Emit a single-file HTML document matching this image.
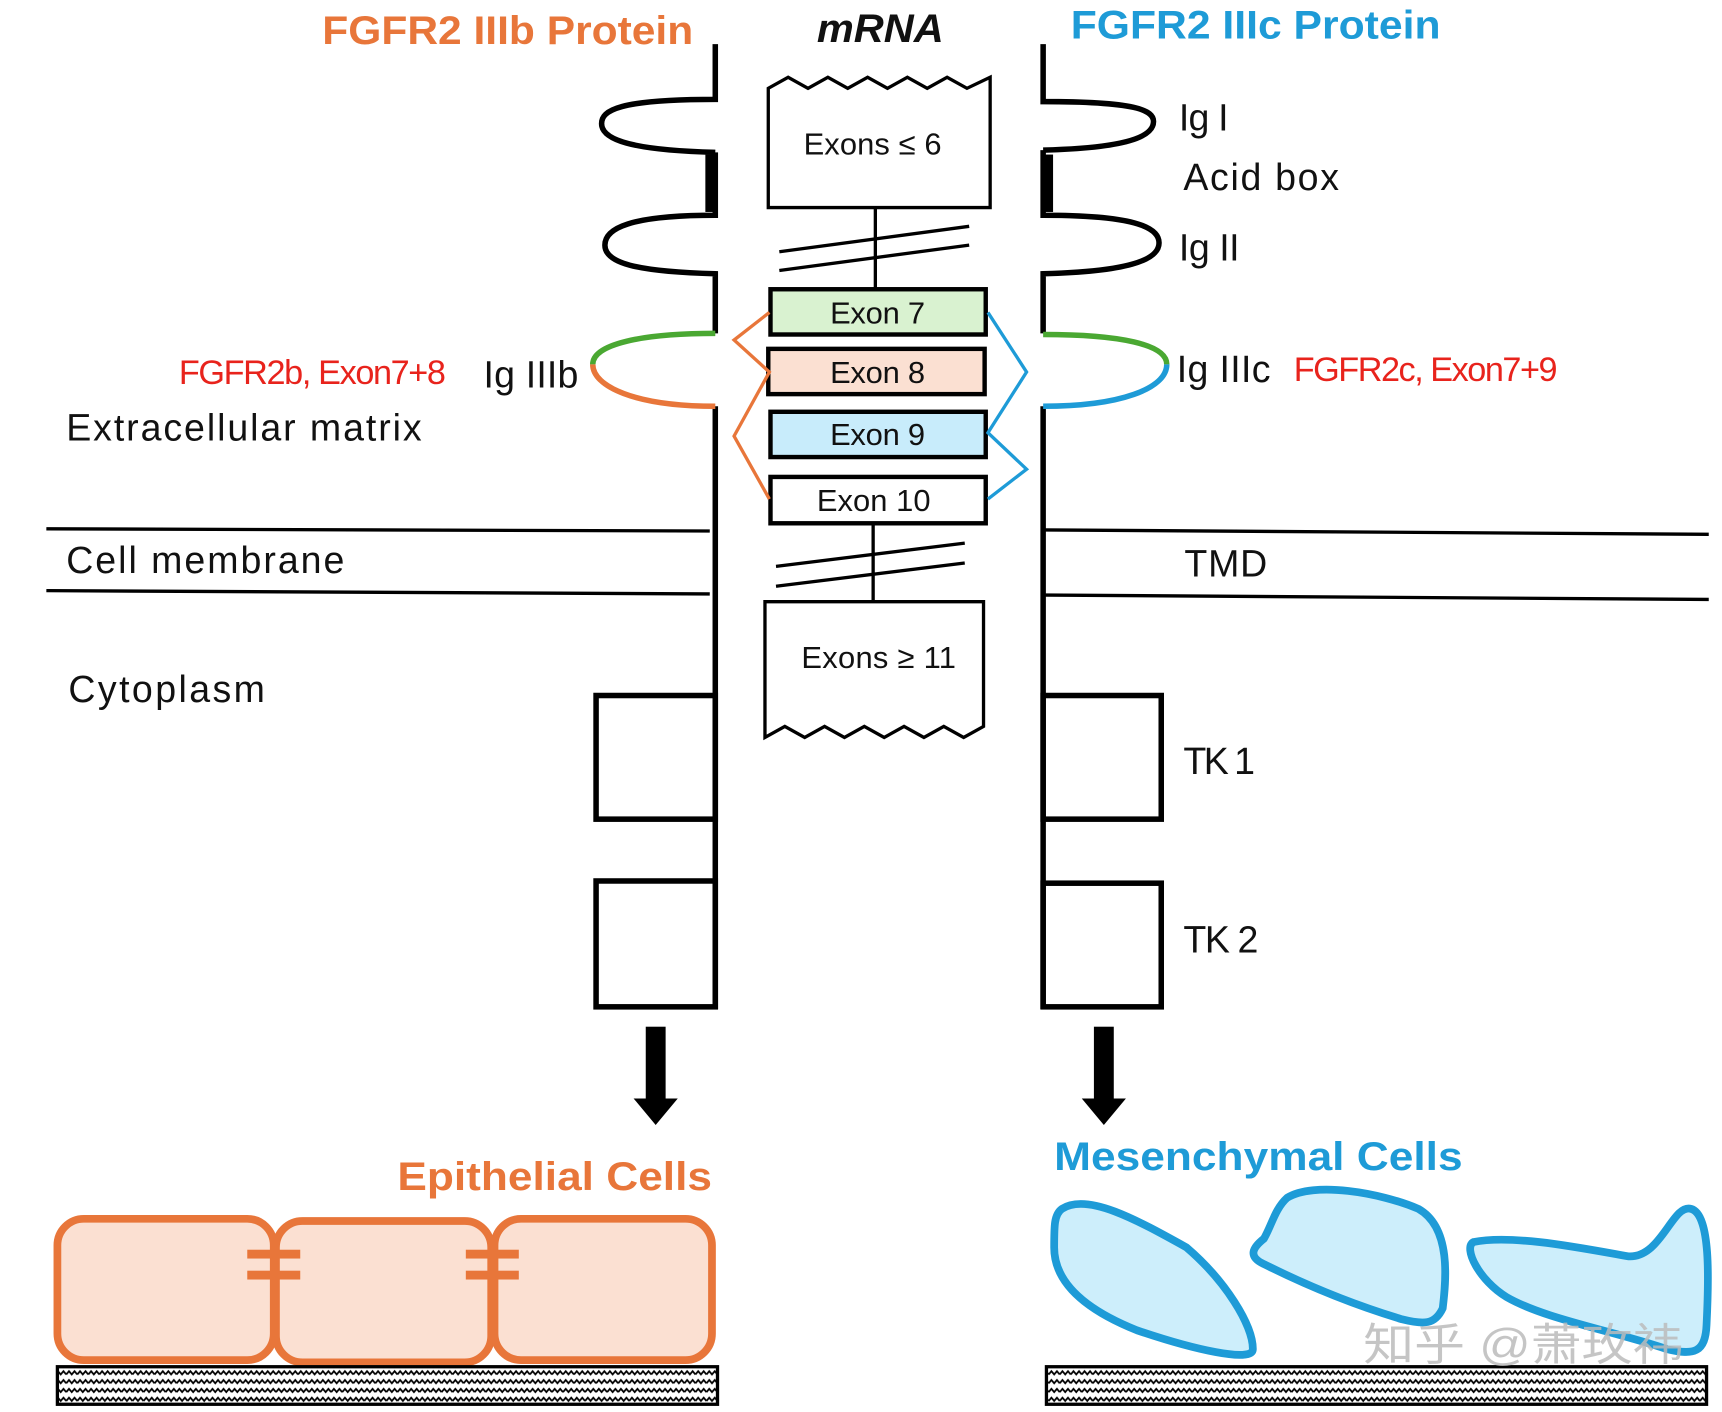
<!DOCTYPE html>
<html><head><meta charset="utf-8"><style>
html,body{margin:0;padding:0;background:#fff;}
svg{display:block;}
text{font-family:"Liberation Sans","Noto Sans CJK SC",sans-serif;}
</style></head><body>
<svg width="1722" height="1412" viewBox="0 0 1560 1279" preserveAspectRatio="none" xmlns="http://www.w3.org/2000/svg">
<defs>
<pattern id="hz" width="10" height="8" patternUnits="userSpaceOnUse">
<rect width="10" height="8" fill="#fff"/>
<path d="M0 5 L2.5 2 L5 5 L7.5 2 L10 5" stroke="#000" stroke-width="1.6" fill="none"/>
</pattern>
</defs>
<text x="292" y="40" font-size="36" font-weight="bold" fill="#e8763a" textLength="336" lengthAdjust="spacingAndGlyphs">FGFR2 IIIb Protein</text>
<text x="740" y="38" font-size="36" font-weight="bold" font-style="italic" fill="#111" textLength="115" lengthAdjust="spacingAndGlyphs">mRNA</text>
<text x="970" y="35" font-size="36" font-weight="bold" fill="#1e9bd7" textLength="335" lengthAdjust="spacingAndGlyphs">FGFR2 IIIc Protein</text>

<g fill="none" stroke="#000" stroke-width="5">
<path d="M648 40 L648 90 C560 90 545 100 545 112 C545 126 570 136 648 138"/>
<path d="M648 138 L648 195 C570 195 548 207 548 222 C548 238 575 246 648 248 L648 302"/>
<path d="M648 368 L648 914"/>
<rect x="540" y="630" width="108" height="112"/>
<rect x="540" y="798" width="108" height="114"/>
</g>
<rect x="639" y="140" width="11" height="52" fill="#000"/>
<path d="M648 302 C580 302 537 312 537 330" stroke="#4aa832" stroke-width="5" fill="none"/>
<path d="M537 330 C537 350 575 368 648 368" stroke="#e8763a" stroke-width="5" fill="none"/>

<g fill="none" stroke="#000" stroke-width="5">
<path d="M945 40 L945 92 C1030 92 1045 100 1045 110 C1045 124 1020 134 945 136"/>
<path d="M945 136 L945 195 C1025 195 1050 205 1050 220 C1050 236 1020 246 945 248 L945 302"/>
<path d="M945 368 L945 914"/>
<rect x="945" y="630" width="107" height="112"/>
<rect x="945" y="800" width="107" height="112"/>
</g>
<rect x="943" y="140" width="11" height="52" fill="#000"/>
<path d="M945 303 C1015 303 1057 312 1057 330" stroke="#4aa832" stroke-width="5" fill="none"/>
<path d="M1057 330 C1057 352 1015 368 945 368" stroke="#1e9bd7" stroke-width="5" fill="none"/>

<g stroke="#000" stroke-width="3">
<line x1="42" y1="479" x2="643" y2="481"/>
<line x1="42" y1="535" x2="643" y2="538"/>
<line x1="947" y1="480" x2="1548" y2="484"/>
<line x1="947" y1="539" x2="1548" y2="543"/>
</g>

<g fill="none" stroke="#000" stroke-width="3">
<path d="M696 188 L696 80 L714 70 L732 80 L750 70 L768 80 L786 70 L804 80 L822 70 L840 80 L858 70 L876 80 L897 70 L897 188 Z" fill="#fff"/>
<line x1="793" y1="188" x2="793" y2="262"/>
<line x1="706" y1="228" x2="878" y2="205"/>
<line x1="706" y1="245" x2="878" y2="222"/>
<line x1="791" y1="474" x2="791" y2="545"/>
<line x1="703" y1="513" x2="874" y2="492"/>
<line x1="703" y1="531" x2="874" y2="510"/>
<path d="M693 545 L891 545 L891 658 L873 668 L855 658 L837 668 L819 658 L801 668 L783 658 L765 668 L747 658 L729 668 L711 658 L693 668 Z" fill="#fff"/>
</g>
<g stroke="#000" stroke-width="4">
<rect x="698" y="262" width="195" height="41" fill="#d9f2d0"/>
<rect x="696" y="316" width="196" height="41" fill="#fbe0d2"/>
<rect x="698" y="373" width="195" height="41" fill="#c8ecfb"/>
<rect x="698" y="432" width="195" height="42" fill="#fff"/>
</g>
<g font-size="28" fill="#111" lengthAdjust="spacingAndGlyphs">
<text x="752" y="293" textLength="86">Exon 7</text>
<text x="752" y="347" textLength="86">Exon 8</text>
<text x="752" y="403" textLength="86">Exon 9</text>
<text x="740" y="463" textLength="103">Exon 10</text>
<text x="728" y="140" textLength="125">Exons ≤ 6</text>
<text x="726" y="605" textLength="140">Exons ≥ 11</text>
</g>
<polyline points="697,283 665,308 697,337 665,395 697,452" fill="none" stroke="#e8763a" stroke-width="3"/>
<polyline points="895,283 930,337 895,392 930,425 895,452" fill="none" stroke="#1e9bd7" stroke-width="3"/>

<g font-size="34" fill="#111" lengthAdjust="spacingAndGlyphs">
<text x="1068" y="118" textLength="45">Ig I</text>
<text x="1072" y="172" textLength="141">Acid box</text>
<text x="1068" y="236" textLength="55">Ig II</text>
<text x="1066" y="346" textLength="85">Ig IIIc</text>
<text x="438" y="351" textLength="86">Ig IIIb</text>
<text x="60" y="399" textLength="322">Extracellular matrix</text>
<text x="60" y="519" textLength="252">Cell membrane</text>
<text x="1073" y="522" textLength="75">TMD</text>
<text x="62" y="636" textLength="178">Cytoplasm</text>
<text x="1072" y="701" textLength="65">TK 1</text>
<text x="1072" y="863" textLength="68">TK 2</text>
</g>
<g font-size="31" fill="#e8231c" lengthAdjust="spacingAndGlyphs">
<text x="162" y="348" textLength="242">FGFR2b, Exon7+8</text>
<text x="1172" y="345" textLength="239">FGFR2c, Exon7+9</text>
</g>

<rect x="585" y="930" width="18" height="66" fill="#000"/>
<polygon points="574,995 614,995 594,1019" fill="#000"/>
<rect x="991" y="930" width="18" height="66" fill="#000"/>
<polygon points="980,995 1020,995 1000,1019" fill="#000"/>

<text x="360" y="1078" font-size="36" font-weight="bold" fill="#e8763a" textLength="285" lengthAdjust="spacingAndGlyphs">Epithelial Cells</text>
<text x="955" y="1060" font-size="36" font-weight="bold" fill="#1e9bd7" textLength="370" lengthAdjust="spacingAndGlyphs">Mesenchymal Cells</text>

<g fill="#fbe0d2" stroke="#e8763a" stroke-width="7">
<rect x="52" y="1104" width="196" height="128" rx="24"/>
<rect x="250" y="1106" width="195" height="128" rx="24"/>
<rect x="448" y="1104" width="197" height="128" rx="24"/>
</g>
<g fill="#e8763a">
<rect x="224" y="1132" width="48" height="8"/>
<rect x="224" y="1151" width="48" height="8"/>
<rect x="422" y="1132" width="48" height="8"/>
<rect x="422" y="1151" width="48" height="8"/>
</g>
<rect x="52" y="1238" width="598" height="34" fill="url(#hz)" stroke="#000" stroke-width="3"/>

<g fill="#cdeefb" stroke="#1e9bd7" stroke-width="7">
<path d="M962 1095 C985 1080 1030 1105 1075 1130 C1110 1160 1135 1200 1135 1222 C1135 1235 1080 1222 1030 1205 C980 1185 955 1160 955 1130 C955 1110 955 1100 962 1095 Z"/>
<path d="M1166 1085 C1190 1070 1250 1080 1285 1095 C1315 1112 1310 1160 1307 1185 C1300 1200 1290 1200 1270 1195 C1220 1180 1175 1160 1145 1145 C1130 1138 1135 1130 1145 1122 C1152 1110 1155 1095 1166 1085 Z"/>
<path d="M1335 1125 C1370 1118 1430 1130 1475 1138 C1505 1140 1515 1090 1532 1095 C1550 1100 1548 1160 1546 1200 C1545 1225 1535 1228 1510 1222 C1460 1205 1400 1195 1365 1175 C1340 1160 1325 1130 1335 1125 Z"/>
</g>
<rect x="948" y="1238" width="598" height="34" fill="url(#hz)" stroke="#000" stroke-width="3"/>
<text x="1235" y="1232" font-size="40" fill="#bbb" fill-opacity="0.85" font-family="'Noto Sans CJK SC',sans-serif" textLength="290" lengthAdjust="spacingAndGlyphs">知乎 @萧玫祎</text>
</svg>
</body></html>
